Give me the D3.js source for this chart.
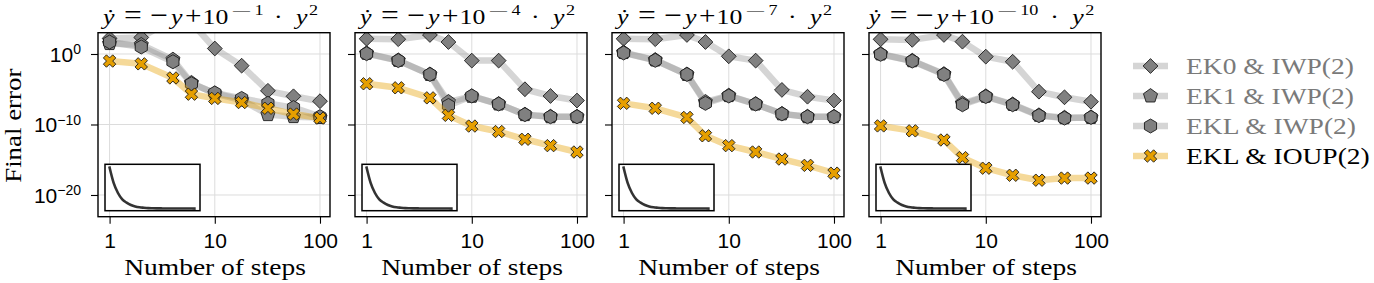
<!DOCTYPE html>
<html><head><meta charset="utf-8">
<script src="https://cdn.jsdelivr.net/npm/d3@7"></script>
<style>body{margin:0;background:#fff;}svg{display:block}</style>
</head><body>
<svg id="c" width="1374" height="283"></svg>
<script>
// ---------------- data ----------------
const steps = [1, 2, 4, 6, 10, 18, 32, 56, 100];
const epsExponents = ["1", "4", "7", "10"];
const seriesNames = ["EK0 & IWP(2)", "EK1 & IWP(2)", "EKL & IWP(2)", "EKL & IOUP(2)"];
const yTicks = [1, 1e-10, 1e-20];
const yTickExp = ["0", "\u221210", "\u221220"];
const xTicks = [1, 10, 100];

// final error per panel (rows = panels)
const errEK0 = [
  [1.6e2, 2.2e2, 1e5, 3e4, 6e0, 2.2e-2, 6e-6, 1e-6, 2e-7],
  [1.45e2, 1.25e2, 5e2, 5e1, 1.15e-1, 1.15e-1, 1e-5, 1.1e-6, 2.5e-7],
  [1.45e2, 1.25e2, 5e2, 5e1, 4.7e-1, 1.15e-1, 8e-6, 8.7e-7, 2.5e-7],
  [1.2e2, 1e2, 5e2, 5.6e1, 4.2e-1, 8e-2, 4.5e-6, 7.2e-7, 1.7e-7]
];
const errEK1 = [
  [3e1, 2e1, 1.6e-1, 8e-5, 2.5e-6, 3e-7, 2.5e-9, 1.3e-9, 1e-9],
  [1.25e0, 1.25e-1, 1.25e-3, 1.6e-7, 1e-6, 8e-8, 2.5e-9, 1.25e-9, 1.25e-9],
  [1.6e0, 1.4e-1, 1.25e-3, 1.6e-7, 1.25e-6, 8e-8, 3.2e-9, 1.25e-9, 1.25e-9],
  [1e0, 1.1e-1, 1.4e-3, 1e-7, 1e-6, 7e-8, 2e-9, 9e-10, 1e-9]
];
const errEKL = [
  [5e1, 1e1, 8e-2, 6e-5, 3e-6, 5e-7, 1e-7, 2.5e-8, 1.3e-9],
  [1.1e0, 1.15e-1, 1.25e-3, 5e-8, 1.1e-6, 8e-8, 2.5e-9, 1.25e-9, 1.25e-9],
  [1.4e0, 1.25e-1, 1.25e-3, 1e-7, 1.1e-6, 8e-8, 3.2e-9, 1.25e-9, 1.25e-9],
  [9e-1, 1e-1, 1.25e-3, 6.3e-8, 9e-7, 6.3e-8, 1.8e-9, 8e-10, 1e-9]
];
const errIOUP = [
  [1e-1, 4e-2, 4e-4, 2e-6, 5e-7, 1.3e-7, 2e-8, 3e-9, 8e-10],
  [6e-5, 1.6e-5, 6e-7, 2e-9, 6e-11, 1e-11, 8e-13, 1e-13, 1.25e-14],
  [1e-7, 2e-8, 1e-9, 2.5e-12, 1e-13, 1.25e-14, 1.25e-15, 1.6e-16, 1.25e-17],
  [6.3e-11, 1.25e-11, 6.3e-13, 2e-15, 6.3e-17, 6.3e-18, 1.25e-18, 2.5e-18, 2.5e-18]
];
// inset: solution trajectory y(t)
const insetT = [0, 0.5, 1, 1.5, 2, 2.5, 3, 3.5, 4, 4.5, 5, 5.5, 6, 6.5, 7, 7.5, 8, 8.5, 9, 9.5, 10];
const insetY = [1, 0.61, 0.37, 0.22, 0.14, 0.085, 0.05, 0.03, 0.02, 0.012, 0.008, 0.005, 0.004, 0.003, 0.003, 0.002, 0.002, 0.001, 0.001, 0.0005, 0];

// ---------------- styling ----------------
const GRAY_FILL = "#808080", ORANGE = "#e69f00";
const series = [
  {name: seriesNames[0], data: errEK0, marker: "diamond", fill: GRAY_FILL, line: "#888888", op: 0.35, text: "#7a7a7a"},
  {name: seriesNames[1], data: errEK1, marker: "pentagon", fill: GRAY_FILL, line: "#888888", op: 0.35, text: "#7a7a7a"},
  {name: seriesNames[2], data: errEKL, marker: "hexagon", fill: GRAY_FILL, line: "#888888", op: 0.35, text: "#7a7a7a"},
  {name: seriesNames[3], data: errIOUP, marker: "x", fill: ORANGE, line: ORANGE, op: 0.4, text: "#000"}
];

function markerPath(kind) {
  if (kind === "diamond") { const r = 7.4; return `M0,${-r}L${r},0L0,${r}L${-r},0Z`; }
  if (kind === "pentagon" || kind === "hexagon") {
    const n = kind === "pentagon" ? 5 : 6, r = kind === "pentagon" ? 7.4 : 7.0;
    const pts = d3.range(n).map(k => { const a = -Math.PI / 2 + 2 * Math.PI * k / n; return [r * Math.cos(a), r * Math.sin(a)]; });
    return "M" + pts.map(p => p[0].toFixed(2) + "," + p[1].toFixed(2)).join("L") + "Z";
  }
  // filled X (rotated plus)
  const s = 13.2 / 6;
  const base = [[-1,-3],[-1,-1],[-3,-1],[-3,1],[-1,1],[-1,3],[1,3],[1,1],[3,1],[3,-1],[1,-1],[1,-3]];
  const c = Math.SQRT1_2;
  const pts = base.map(([x, y]) => [(x - y) * c * s, (x + y) * c * s]);
  return "M" + pts.map(p => p[0].toFixed(2) + "," + p[1].toFixed(2)).join("L") + "Z";
}

const svg = d3.select("#c");
const PW = 232, PT = 32.7, PH = 184, GAP = 257, L0 = 98;
const SX = 1.17; // horizontal text stretch
const serif = "'Liberation Serif','Times New Roman',serif";
const sans = "'Liberation Sans',Arial,sans-serif";

const defs = svg.append("defs");

epsExponents.forEach((ex, i) => {
  const left = L0 + GAP * i;
  const x = d3.scaleLog().domain([0.776, 124.5]).range([left, left + PW]);
  const y = d3.scaleLog().domain([Math.pow(10, -23.08), Math.pow(10, 3.02)]).range([PT + PH, PT]);

  const g = svg.append("g");
  // grid
  g.selectAll(".gx").data(xTicks).join("line")
    .attr("x1", d => x(d)).attr("x2", d => x(d)).attr("y1", PT).attr("y2", PT + PH)
    .attr("stroke", "#dcdcdc").attr("stroke-width", 1);
  g.selectAll(".gy").data(yTicks).join("line")
    .attr("y1", d => y(d)).attr("y2", d => y(d)).attr("x1", left).attr("x2", left + PW)
    .attr("stroke", "#dcdcdc").attr("stroke-width", 1);

  // inset
  const ix = left + 7, iy = PT + PH - 52.4, iw = 95, ih = 46.4;
  const ins = g.append("g");
  ins.append("rect").attr("x", ix).attr("y", iy).attr("width", iw).attr("height", ih)
    .attr("fill", "#fff").attr("stroke", "#000").attr("stroke-width", 1.5);
  const tx = d3.scaleLinear().domain([-0.5, 10.5]).range([ix, ix + iw]);
  const ty = d3.scaleLinear().domain([-0.05, 1.05]).range([iy + ih, iy]);
  ins.append("path").datum(insetT.map((t, k) => [t, insetY[k]]))
    .attr("d", d3.line().x(d => tx(d[0])).y(d => ty(d[1])).curve(d3.curveMonotoneX))
    .attr("fill", "none").attr("stroke", "#333").attr("stroke-width", 2.6);

  // clip
  const cid = "clip" + i;
  defs.append("clipPath").attr("id", cid).append("rect")
    .attr("x", left).attr("y", PT).attr("width", PW).attr("height", PH);
  const plot = g.append("g").attr("clip-path", `url(#${cid})`);

  series.forEach(s => {
    const vals = s.data[i].map((v, k) => [steps[k], v]);
    plot.append("path").datum(vals)
      .attr("d", d3.line().x(d => x(d[0])).y(d => y(d[1])))
      .attr("fill", "none").attr("stroke", s.line).attr("stroke-opacity", s.op)
      .attr("stroke-width", 6.5).attr("stroke-linejoin", "round").attr("stroke-linecap", "butt");
    plot.selectAll(null).data(vals).join("path")
      .attr("transform", d => `translate(${x(d[0])},${y(d[1])})`)
      .attr("d", markerPath(s.marker))
      .attr("fill", s.fill).attr("stroke", "#1a1a1a").attr("stroke-width", 0.9);
  });

  // frame
  g.append("rect").attr("x", left).attr("y", PT).attr("width", PW).attr("height", PH)
    .attr("fill", "none").attr("stroke", "#000").attr("stroke-width", 1.4);

  // axes
  const ax = g.append("g").attr("transform", `translate(0,${PT + PH})`)
    .call(d3.axisBottom(x).tickValues(xTicks).tickSize(7).tickFormat(d3.format("d")));
  ax.select(".domain").remove();
  ax.selectAll("line").attr("stroke", "#000").attr("stroke-width", 1.1);
  ax.selectAll("text").attr("font-family", sans).attr("font-size", 21).attr("fill", "#000")
    .attr("dy", null).attr("y", 31.5);

  const ay = g.append("g").attr("transform", `translate(${left},0)`)
    .call(d3.axisLeft(y).tickValues(yTicks).tickSize(7).tickFormat(""));
  ay.select(".domain").remove();
  ay.selectAll("line").attr("stroke", "#000").attr("stroke-width", 1.1);

  if (i === 0) {
    yTicks.forEach((t, k) => {
      const tt = g.append("text").attr("x", left - 17).attr("y", y(t) + 8)
        .attr("text-anchor", "end").attr("font-family", sans).attr("font-size", 21).attr("fill", "#000");
      tt.append("tspan").text("10");
      tt.append("tspan").attr("dy", -7.5).attr("font-size", 14).text(yTickExp[k]);
    });
    svg.append("text").attr("transform", `translate(20.8,${PT + PH / 2 + 1}) rotate(-90) scale(${SX},1)`)
      .attr("text-anchor", "middle").attr("font-family", serif).attr("font-size", 23).attr("fill", "#000")
      .text("Final error");
  }

  // x label
  svg.append("text").attr("transform", `translate(${left + PW / 2 + 1},274.7) scale(${SX},1)`)
    .attr("text-anchor", "middle").attr("font-family", serif).attr("font-size", 23.5).attr("fill", "#000")
    .text("Number of steps");

  // title  (math-like layout)
  const digitW = 10.8;
  const supEnd = 152 + digitW * ex.length;
  const parts = [
    {t: "\u1E8F", o: 0, it: true, fs: 22},
    {t: "=", o: 21, fs: 27},
    {t: "\u2212", o: 47, fs: 27},
    {t: "y", o: 68, it: true, fs: 22},
    {t: "+", o: 82, fs: 25},
    {t: "10", o: 99.5, fs: 22},
    {t: "\u2014", o: 130, sup: true, fs: 14.5},
    {t: ex, o: 151.5, sup: true, fs: 15.5},
    {t: "\u00B7", o: supEnd + 8, fs: 22},
    {t: "y", o: supEnd + 30, it: true, fs: 22},
    {t: "2", o: supEnd + 43, sup: true, fs: 15.5}
  ];
  const total = supEnd + 55;
  const startX = left + PW / 2 - total / 2 - 2;
  const tg = svg.append("text").attr("transform", `translate(${startX},23.5) scale(${SX},1)`)
    .attr("font-family", serif).attr("fill", "#000");
  parts.forEach(p => {
    const ts = tg.append("tspan").attr("x", p.o / SX).attr("font-size", p.fs).text(p.t);
    if (p.it) ts.attr("font-style", "italic");
    ts.attr("y", p.sup ? -9 : 0);
  });
});

// legend
const lg = svg.append("g");
series.forEach((s, k) => {
  const cy = 66 + 30 * k;
  lg.append("line").attr("x1", 1133).attr("x2", 1168).attr("y1", cy).attr("y2", cy)
    .attr("stroke", s.line).attr("stroke-opacity", s.op).attr("stroke-width", 6.5);
  lg.append("path").attr("transform", `translate(1150.5,${cy})`).attr("d", markerPath(s.marker))
    .attr("fill", s.fill).attr("stroke", "#1a1a1a").attr("stroke-width", 0.9);
  lg.append("text").attr("transform", `translate(1186,${cy + 8}) scale(${SX},1)`)
    .attr("font-family", serif).attr("font-size", 23.5).attr("fill", s.text).text(s.name);
});
</script>
</body></html>
